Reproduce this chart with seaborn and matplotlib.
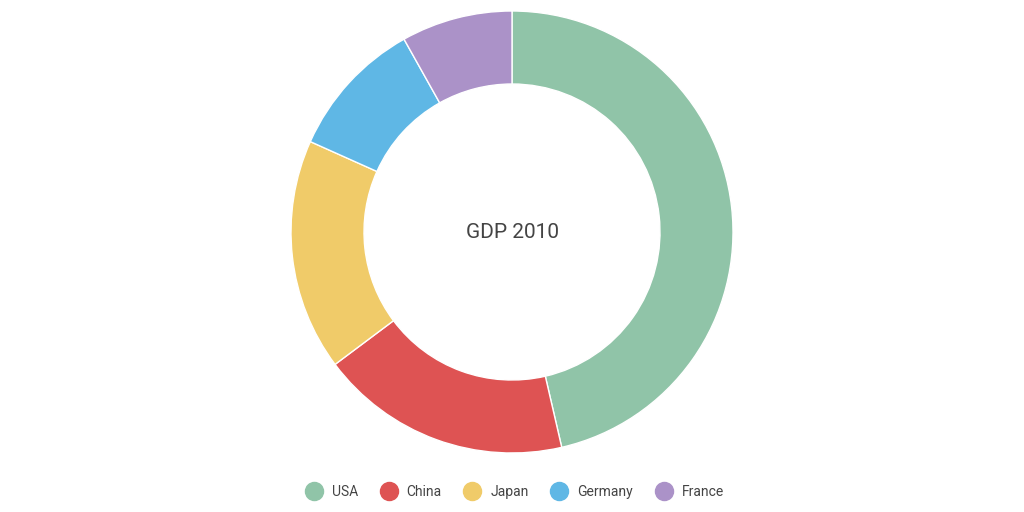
import matplotlib
matplotlib.use("Agg")
import matplotlib.pyplot as plt
import seaborn as sns
from matplotlib.lines import Line2D

countries = ["USA", "China", "Japan", "Germany", "France"]
gdp = [14.96, 5.93, 5.46, 3.28, 2.62]
colors = ["#90C4A8", "#DE5353", "#F0CB69", "#5FB7E5", "#AB92C8"]
title = "GDP 2010"

sns.set_theme(style="white")
plt.rcParams['font.family'] = ['Roboto', 'DejaVu Sans']

fig = plt.figure(figsize=(10.24, 5.12), dpi=100)
ax = fig.add_axes([(512 - 221) / 1024, (512 - 453) / 512, 442 / 1024, 442 / 512])
ax.pie(gdp, colors=colors, startangle=90, counterclock=False, radius=1,
       wedgeprops=dict(width=73 / 221, edgecolor="white", linewidth=1))
ax.set_aspect("equal")
ax.set_xlim(-1, 1); ax.set_ylim(-1, 1)
ax.axis("off")
ax.text(0, 0, title, ha="center", va="center", fontsize=15, color="#444444")

handles = [Line2D([], [], marker="o", linestyle="", markersize=13,
                  markerfacecolor=c, markeredgecolor=c) for c in colors]
fig.legend(handles, countries, loc="center", bbox_to_anchor=(0.5, 1 - 492 / 512),
           ncol=5, frameon=False, fontsize=10, labelcolor="#444444",
           handletextpad=0.3, columnspacing=1.2)
fig.savefig("out.png", dpi=100, facecolor="white")
